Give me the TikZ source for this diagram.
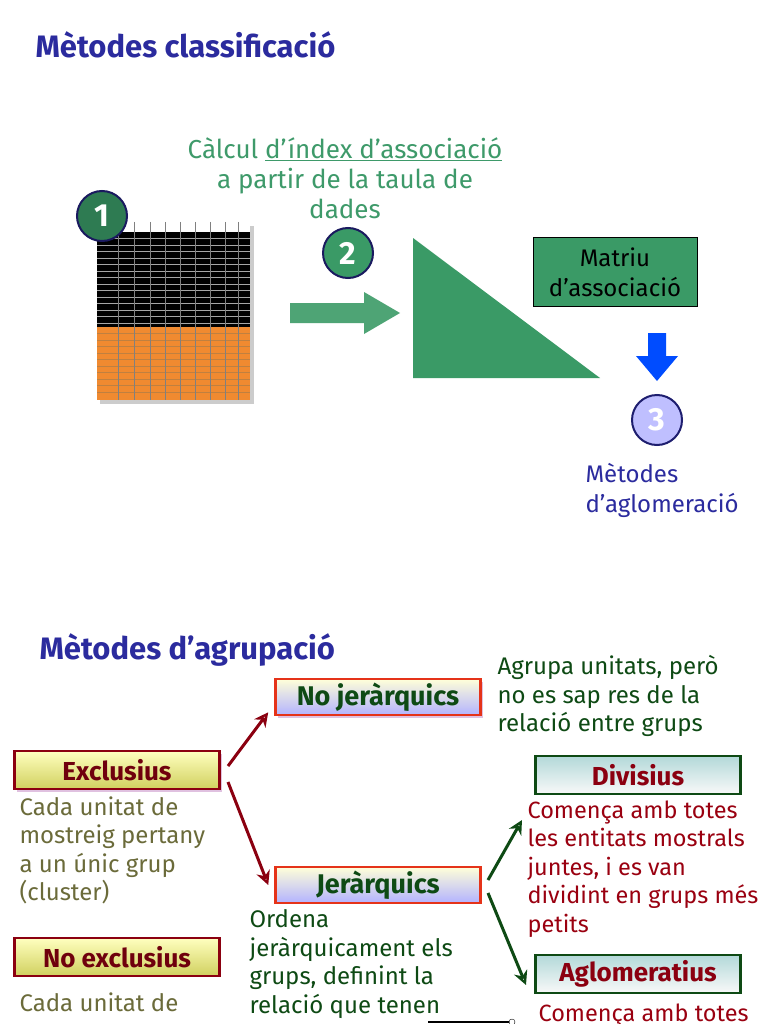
\documentclass[tikz,border=0pt]{standalone}
\usepackage{fontspec}
\setmainfont{Fira Sans}
\usetikzlibrary{arrows.meta,shadows}
\definecolor{ttl}{HTML}{2B2B9E}
\definecolor{grn}{HTML}{3E9A6A}
\definecolor{tri}{HTML}{3A9A66}
\definecolor{dred}{HTML}{8B0010}
\definecolor{dgrn}{HTML}{0E4A14}
\definecolor{olive}{HTML}{6B6B3A}
\definecolor{rtxt}{HTML}{9A0010}
\definecolor{org}{HTML}{F08A30}
\begin{document}
\begin{tikzpicture}[x=1pt,y=-1pt,
 ttlS/.style={text=ttl,font=\bfseries\fontsize{31}{34}\selectfont,anchor=west},
 num/.style={circle,draw=ttl!60!black,line width=2pt,minimum size=50pt,text=white,font=\bfseries\fontsize{32}{32}\selectfont},
 boxY/.style={draw=dred,line width=2.5pt,top color=yellow!25,bottom color=yellow!55!olive!70,minimum width=205pt,minimum height=38pt,font=\bfseries\fontsize{26}{28}\selectfont,text=dred!80!black},
 boxB/.style={draw=red!60!brown,line width=2.5pt,top color=yellow!15,bottom color=blue!30,minimum width=205pt,minimum height=36pt,font=\bfseries\fontsize{27}{28}\selectfont,text=dgrn},
 boxG/.style={draw=dgrn,line width=2.5pt,top color=teal!30,bottom color=white!95!gray,minimum width=205pt,minimum height=38pt,font=\bfseries\fontsize{26}{28}\selectfont,text=dred},
 desc/.style={anchor=north west,align=left,font=\fontsize{24}{28.5}\selectfont},
 arR/.style={-{Stealth[length=14pt,width=14pt,open]},line width=3pt,color=dred},
 arG/.style={-{Stealth[length=14pt,width=14pt,open]},line width=3pt,color=dgrn}]
\useasboundingbox (0,0) rectangle (768,1024);
\fill[white] (0,0) rectangle (768,1024);
\node[ttlS] (t1) at (32,45) {Mètodes classificació};
\node[text=grn,align=center,font=\fontsize{26}{30}\selectfont] (calc) at (345,178) {Càlcul \underline{d’índex d’associació}\\a partir de la taula de\\dades};
% table
\fill[gray!40] (100,226) rectangle (254,404);
\fill[white] (97,222) rectangle (250,232);
\fill[black] (97,232) rectangle (250,327);
\fill[org] (97,327) rectangle (250,400);
\foreach \y in {238.5,245,251.5,258,264.5,271,277.5,284,290.5,297,303.5,310,316.5,323} \draw[gray!70,line width=0.2pt] (97,\y)--(250,\y);
\foreach \y in {333.5,340,346.5,353,359.5,366,372.5,379,385.5,392} \draw[brown,line width=0.2pt] (97,\y)--(250,\y);
\foreach \x in {118,134,150,165,180,195,210,225,238} \draw[gray,line width=0.2pt] (\x,222)--(\x,400);
\node[num,fill=tri!80!black] (n1) at (102,216) {1};
\node[num,fill=tri] (n2) at (348,253) {2};
\fill[tri!90!white] (290,303) rectangle (364,323) (364,292)--(400,313)--(364,334)--cycle;
\fill[tri] (413,238) -- (413,378) -- (600,378) -- cycle;
\node[draw=black,fill=tri,minimum width=164pt,minimum height=69pt,align=center,font=\fontsize{24}{30}\selectfont] (mat) at (615,272) {Matriu\\d’associació};
\fill[blue!70!cyan] (648,333) rectangle (666,356) (636,356)--(678,356)--(657,381)--cycle;
\node[num,fill=blue!25!white,draw=ttl!70!black] (n3) at (657,420) {3};
\node[anchor=north west,align=left,text=ttl,font=\fontsize{24}{30}\selectfont] (agl) at (582,460) {Mètodes\\d’aglomeració};
% bottom
\node[ttlS] (t2) at (36,650) {Mètodes d’agrupació};
\node[boxY,drop shadow={color=violet!40,opacity=0.6}] (ex) at (117,770) {Exclusius};
\node[boxY] (nex) at (117,957) {No exclusius};
\node[boxB,drop shadow={color=violet!40,opacity=0.6}] (nj) at (378,697) {No jeràrquics};
\node[boxB] (jer) at (378,885) {Jeràrquics};
\node[boxG] (div) at (638,775) {Divisius};
\node[boxG] (agg) at (638,974) {Aglomeratius};
\node[desc,text=olive] at (16,793) {Cada unitat de\\mostreig pertany\\a un únic grup\\(cluster)};
\node[desc,text=olive] at (16,989) {Cada unitat de};
\node[desc,text=dgrn] at (494,652) {Agrupa unitats, però\\no es sap res de la\\relació entre grups};
\node[desc,text=dgrn] at (246,906) {Ordena\\jeràrquicament els\\grups, definint la\\relació que tenen};
\node[desc,text=rtxt,font=\fontsize{23.5}{28.5}\selectfont] at (524,797) {Comença amb totes\\les entitats mostrals\\juntes, i es van\\dividint en grups més\\petits};
\node[desc,text=rtxt,font=\fontsize{23.5}{28.5}\selectfont] at (535,1000) {Comença amb totes};
\coordinate (e1) at (228,766); \coordinate (e2) at (228,782);
\coordinate (j1) at (488,880); \coordinate (j2) at (488,893);
\coordinate (d1) at (522,820); \coordinate (g1) at (526,985);
\draw[arR] (e1) -- ([xshift=-6pt,yshift=4pt]nj.south west);
\draw[arR] (e2) -- ([xshift=-6pt]jer.west);
\draw[arG] (j1) -- (d1);
\draw[arG] (j2) -- (g1);
\coordinate (c0) at (428,1022); \coordinate (c1) at (512,1022);
\draw[line width=2pt] (c0)--(c1); \draw[fill=white] (c1) circle (3);
\end{tikzpicture}
\end{document}
